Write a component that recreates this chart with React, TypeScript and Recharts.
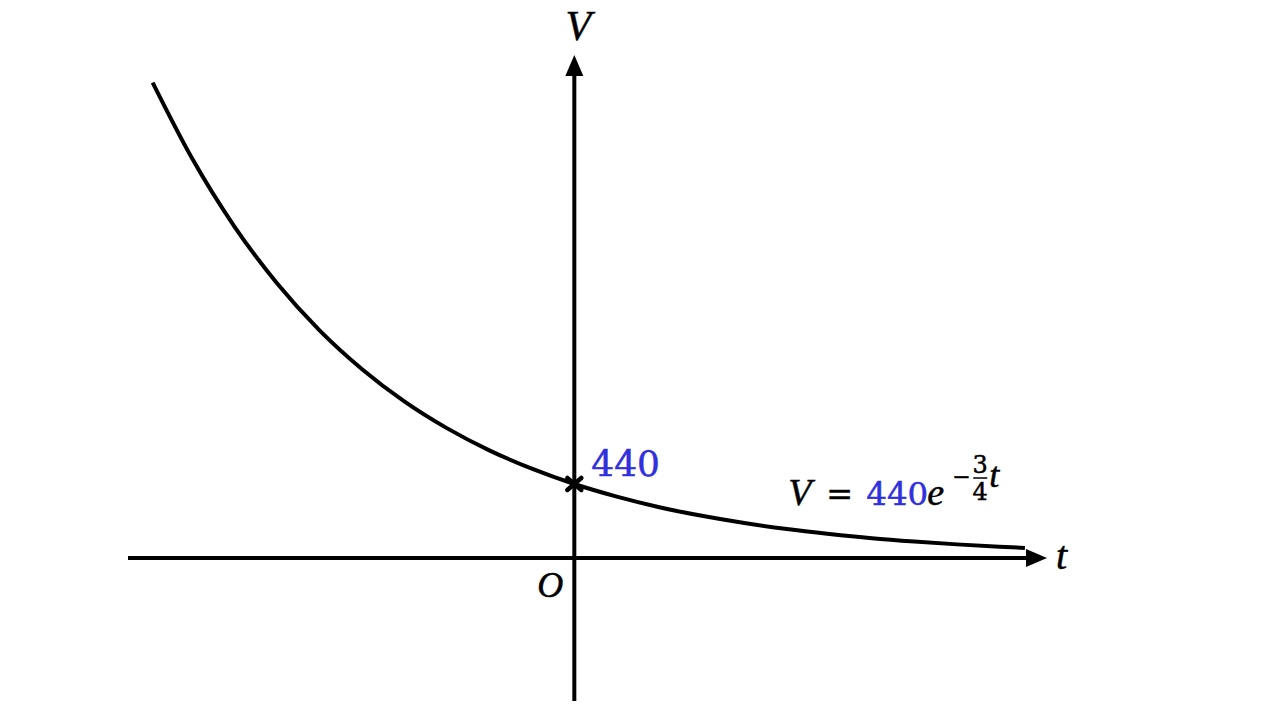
import React from "react";
import {
  ComposedChart,
  Line,
  ReferenceDot,
  ReferenceLine,
  XAxis,
  YAxis,
} from "recharts";

// t values along the curve and V
const T_VALUES = [
  -2.48, -2.25, -2, -1.75, -1.5, -1.25, -1, -0.75, -0.5, -0.25, 0,
  0.25, 0.5, 0.75, 1, 1.25, 1.5, 1.75, 2, 2.25, 2.5, 2.65,
];
const V_VALUES = [
  2826, 2379, 1972, 1635, 1355, 1124, 931, 772, 640, 531, 440,
  365, 302, 251, 208, 172, 143, 118, 98, 81, 67, 60,
];

const T_DOMAIN: [number, number] = [-2.625, 2.78];
const V_DOMAIN: [number, number] = [-850, 2990];
const INTERCEPT = 440;
const INTERCEPT_LABEL = "440";
const FORMULA_AT = { t: 1.27, v: 315 };

const data = T_VALUES.map((t, i) => ({ t, v: V_VALUES[i] }));

const BLUE = "#3030dc";
const ITALIC_FONT = '"Liberation Serif", serif';
const UPRIGHT_FONT = '"DejaVu Serif", serif';

const ArrowLine = (p: any) => {
  const { x1, y1, x2, y2 } = p;
  const dx = x2 - x1;
  const dy = y2 - y1;
  const len = Math.hypot(dx, dy) || 1;
  const ux = dx / len;
  const uy = dy / len;
  const hl = 21;
  const hw = 9;
  const bx = x2 - ux * hl;
  const by = y2 - uy * hl;
  return (
    <g>
      <line x1={x1} y1={y1} x2={bx + ux * 2} y2={by + uy * 2} stroke="#000" strokeWidth={4} />
      <polygon
        points={`${x2},${y2} ${bx - uy * hw},${by + ux * hw} ${bx + uy * hw},${by - ux * hw}`}
        fill="#000"
      />
    </g>
  );
};

const Cross = ({ cx, cy }: any) => (
  <g stroke="#000" strokeWidth={4.5} strokeLinecap="round">
    <line x1={cx - 7} y1={cy - 6} x2={cx + 7} y2={cy + 6} />
    <line x1={cx - 7} y1={cy + 6} x2={cx + 7} y2={cy - 6} />
  </g>
);

const textAt = (
  label: string,
  dx: number,
  dy: number,
  opts: { anchor?: "start" | "middle" | "end"; italic?: boolean; size?: number; color?: string }
) =>
  ({ cx, cy }: any) => {
    const color = opts.color ?? "#000";
    return (
      <text
        x={cx + dx}
        y={cy + dy}
        textAnchor={opts.anchor ?? "start"}
        fontFamily={opts.italic ? ITALIC_FONT : UPRIGHT_FONT}
        fontStyle={opts.italic ? "italic" : "normal"}
        fontSize={opts.size ?? 38}
        fill={color}
        stroke={color}
        strokeWidth={0.5}
      >
        {label}
      </text>
    );
  };

const Formula = ({ cx, cy }: any) => (
  <g stroke="#000" strokeWidth={0.5}>
    <text x={cx - 2} y={cy} fontSize={38} fontStyle="italic" fontFamily={ITALIC_FONT}>V</text>
    <text x={cx + 36} y={cy} fontSize={32} fontFamily={UPRIGHT_FONT}>=</text>
    <text x={cx + 76} y={cy} fontSize={32.5} fontFamily={UPRIGHT_FONT} fill={BLUE} stroke={BLUE}>
      {INTERCEPT_LABEL}
    </text>
    <text x={cx + 137} y={cy} fontSize={38} fontStyle="italic" fontFamily={ITALIC_FONT}>e</text>
    <text x={cx + 162} y={cy - 21} fontSize={22} fontFamily={UPRIGHT_FONT}>−</text>
    <text x={cx + 190} y={cy - 32} fontSize={24} fontFamily={UPRIGHT_FONT} textAnchor="middle">3</text>
    <line x1={cx + 183} y1={cy - 27} x2={cx + 197} y2={cy - 27} stroke="#000" strokeWidth={1.5} />
    <text x={cx + 190} y={cy - 5} fontSize={24} fontFamily={UPRIGHT_FONT} textAnchor="middle">4</text>
    <text x={cx + 199} y={cy - 18} fontSize={36} fontStyle="italic" fontFamily={ITALIC_FONT}>t</text>
  </g>
);

export default function App() {
  return (
    <div style={{ position: "absolute", left: 0, top: 0, width: 1280, height: 715, background: "#fff" }}>
      <ComposedChart
        width={1280}
        height={715}
        data={data}
        margin={{ top: 55, right: 233, bottom: 14, left: 128 }}
      >
        <XAxis type="number" dataKey="t" domain={T_DOMAIN} allowDataOverflow hide />
        <YAxis type="number" domain={V_DOMAIN} allowDataOverflow hide />
        <ReferenceLine
          segment={[{ x: T_DOMAIN[0], y: 0 }, { x: T_DOMAIN[1], y: 0 }]}
          ifOverflow="visible"
          shape={ArrowLine}
        />
        <ReferenceLine
          segment={[{ x: 0, y: V_DOMAIN[0] }, { x: 0, y: V_DOMAIN[1] }]}
          ifOverflow="visible"
          shape={ArrowLine}
        />
        <Line
          type="monotone"
          dataKey="v"
          stroke="#000"
          strokeWidth={4}
          dot={false}
          isAnimationActive={false}
        />
        <ReferenceDot x={0} y={INTERCEPT} ifOverflow="visible" shape={Cross} />
        <ReferenceDot
          x={0}
          y={INTERCEPT}
          ifOverflow="visible"
          shape={textAt(INTERCEPT_LABEL, 17, -8, { size: 36, color: BLUE })}
        />
        <ReferenceDot
          x={0}
          y={V_DOMAIN[1]}
          ifOverflow="visible"
          shape={textAt("V", 4, -15, { anchor: "middle", italic: true, size: 42 })}
        />
        <ReferenceDot
          x={T_DOMAIN[1]}
          y={0}
          ifOverflow="visible"
          shape={textAt("t", 9, 11, { italic: true, size: 40 })}
        />
        <ReferenceDot
          x={0}
          y={0}
          ifOverflow="visible"
          shape={textAt("O", -11, 39, { anchor: "end", italic: true, size: 36 })}
        />
        <ReferenceDot x={FORMULA_AT.t} y={FORMULA_AT.v} ifOverflow="visible" shape={Formula} />
      </ComposedChart>
    </div>
  );
}
